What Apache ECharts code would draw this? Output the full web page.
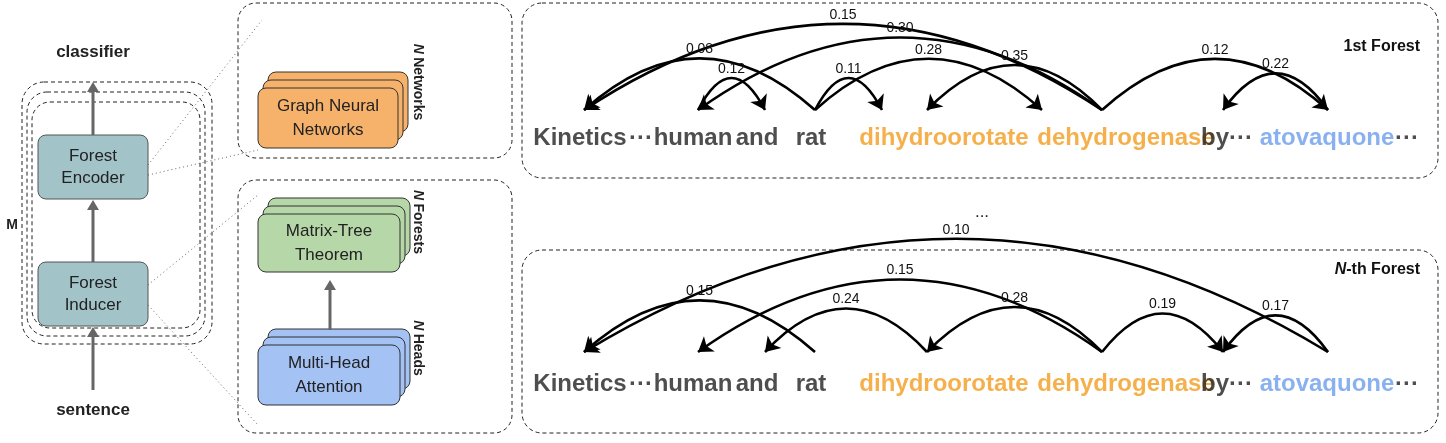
<!DOCTYPE html>
<html>
<head>
<meta charset="utf-8">
<script src="https://cdn.jsdelivr.net/npm/echarts@6/dist/echarts.min.js"></script>
<style>html,body{margin:0;background:#fff}#c{width:1446px;height:443px}</style>
</head>
<body>
<div id="c"></div>
<script>
// words of the sentence: text, centre x, colour group
var words = ['Kinetics', '\u00b7\u00b7\u00b7', 'human', 'and', 'rat', 'dihydroorotate', 'dehydrogenase', 'by', '\u00b7\u00b7\u00b7', 'atovaquone', '\u00b7\u00b7\u00b7'];
var wordX = [580, 641, 693, 757, 811, 944, 1126, 1215, 1241, 1327, 1407];
var wordKind = [0, 0, 0, 0, 0, 1, 1, 0, 0, 2, 0];
// arc anchors (x) for each forest: [from, to, weight]
var topArcs = [
  [1102, 584, 0.15], [1102, 698, 0.30], [815, 584, 0.08], [698, 765, 0.12],
  [815, 882, 0.11], [815, 1042, 0.28], [1102, 927, 0.35], [1102, 1328, 0.12], [1328, 1223, 0.22]
];
var bottomArcs = [
  [1328, 584, 0.10], [815, 584, 0.15], [1102, 698, 0.15], [927, 765, 0.24],
  [1102, 927, 0.28], [1102, 1223, 0.19], [1328, 1223, 0.17]
];
var topWordY = 138, topArcY = 110, botWordY = 384, botArcY = 352;

var kindColor = ['#222', '#f39c1f', '#6d9eeb'];

function arcData(arcs, y) {
  return arcs.map(function (a) {
    var dx = a[1] - a[0];
    var h = 24 + 0.12 * Math.abs(dx);
    return {
      coords: [[a[0], y], [a[1], y]],
      value: a[2],
      lineStyle: { curveness: 2 * h / dx }
    };
  });
}
function wordData(y) {
  return words.map(function (w, i) {
    return { value: [wordX[i], y], name: w, label: { color: kindColor[wordKind[i]] } };
  });
}
function arcSeries(arcs, y) {
  return {
    type: 'lines', coordinateSystem: 'cartesian2d', silent: true,
    symbol: ['none', 'arrow'], symbolSize: [0, 14],
    lineStyle: { color: '#000', width: 2.6, opacity: 1 },
    label: { show: true, position: 'middle', distance: 2, fontSize: 14, color: '#111',
      fontFamily: 'Liberation Sans', formatter: function (p) { return p.value.toFixed(2); } },
    data: arcData(arcs, y)
  };
}
function wordSeries(y) {
  return {
    type: 'scatter', symbolSize: 0, silent: true,
    label: { show: true, position: 'inside', formatter: '{b}', fontSize: 24, fontWeight: 'bold',
      fontFamily: 'Liberation Sans' },
    data: wordData(y)
  };
}

var dash = { stroke: '#222', fill: 'none', lineWidth: 1, lineDash: [4, 3] };
function box(x, y, w, h, r, style) { return { type: 'rect', shape: { x: x, y: y, width: w, height: h, r: r }, style: style }; }
function card(x, y, w, h, fill, text) {
  var g = [];
  for (var k = 2; k >= 0; k--) g.push(box(x + 5 * k, y - 8 * k, w, h, 8, { fill: fill, stroke: '#333', lineWidth: 1 }));
  g.push({ type: 'text', style: { x: x + w / 2, y: y + h / 2, text: text, align: 'center', verticalAlign: 'middle',
    font: '17px Liberation Sans', fill: '#222', lineHeight: 24 } });
  return g;
}
function vtext(x, y, n, rest) {
  return { type: 'text', x: x, y: y, rotation: -Math.PI / 2,
    style: { text: '{i|' + n + '} {b|' + rest + '}', align: 'center', verticalAlign: 'middle',
      rich: { i: { font: 'italic bold 14px Liberation Sans', fill: '#222' }, b: { font: 'bold 14px Liberation Sans', fill: '#222' } } } };
}
function arrow(x, y1, y2) {
  return [{ type: 'line', shape: { x1: x, y1: y1, x2: x, y2: y2 + 8 }, style: { stroke: '#666', lineWidth: 3 } },
    { type: 'polygon', shape: { points: [[x - 6, y2 + 10], [x + 6, y2 + 10], [x, y2]] }, style: { fill: '#666' } }];
}
var teal = { fill: '#a2c4c9', stroke: '#555', lineWidth: 1 };
var graphics = [
  box(522, 3, 916, 175, 20, dash),
  box(522, 250, 916, 183, 20, dash),
  box(238, 3, 274, 155, 18, dash),
  box(238, 180, 274, 253, 18, dash),
  box(22, 82, 190, 262, 22, dash), box(27, 92, 178, 244, 20, dash), box(32, 102, 168, 226, 18, dash),
  box(38, 135, 110, 64, 8, teal), box(38, 262, 110, 64, 8, teal),
  { type: 'text', style: { x: 93, y: 167, text: 'Forest\nEncoder', align: 'center', verticalAlign: 'middle', font: '17px Liberation Sans', fill: '#222', lineHeight: 22 } },
  { type: 'text', style: { x: 93, y: 294, text: 'Forest\nInducer', align: 'center', verticalAlign: 'middle', font: '17px Liberation Sans', fill: '#222', lineHeight: 22 } },
  { type: 'text', style: { x: 93, y: 52, text: 'classifier', align: 'center', verticalAlign: 'middle', font: 'bold 17px Liberation Sans', fill: '#222' } },
  { type: 'text', style: { x: 93, y: 410, text: 'sentence', align: 'center', verticalAlign: 'middle', font: 'bold 17px Liberation Sans', fill: '#222' } },
  { type: 'text', style: { x: 12, y: 225, text: 'M', align: 'center', verticalAlign: 'middle', font: 'bold 14px Liberation Sans', fill: '#222' } },
  { type: 'text', style: { x: 982, y: 212, text: '...', align: 'center', verticalAlign: 'middle', font: '17px Liberation Sans', fill: '#222' } },
  { type: 'text', style: { x: 1420, y: 47, text: '1st Forest', align: 'right', verticalAlign: 'middle', font: 'bold 16px Liberation Sans', fill: '#111' } },
  { type: 'text', style: { x: 1420, y: 270, text: '{i|N}{b|-th Forest}', align: 'right', verticalAlign: 'middle',
    rich: { i: { font: 'italic bold 16px Liberation Sans', fill: '#111' }, b: { font: 'bold 16px Liberation Sans', fill: '#111' } } } },
  vtext(418, 82, 'N', 'Networks'), vtext(418, 222, 'N', 'Forests'), vtext(418, 348, 'N', 'Heads'),
  { type: 'line', shape: { x1: 148, y1: 165, x2: 262, y2: 20 }, style: { stroke: '#666', lineDash: [1, 3] } },
  { type: 'line', shape: { x1: 148, y1: 175, x2: 258, y2: 150 }, style: { stroke: '#666', lineDash: [1, 3] } },
  { type: 'line', shape: { x1: 148, y1: 285, x2: 258, y2: 195 }, style: { stroke: '#666', lineDash: [1, 3] } },
  { type: 'line', shape: { x1: 148, y1: 305, x2: 258, y2: 425 }, style: { stroke: '#666', lineDash: [1, 3] } }
].concat(card(258, 88, 140, 60, '#f6b26b', 'Graph Neural\nNetworks'))
 .concat(card(258, 214, 142, 58, '#b6d7a8', 'Matrix-Tree\nTheorem'))
 .concat(card(258, 345, 142, 60, '#a4c2f4', 'Multi-Head\nAttention'))
 .concat(arrow(93, 135, 82)).concat(arrow(93, 262, 200)).concat(arrow(93, 390, 327)).concat(arrow(330, 330, 280));

var chart = echarts.init(document.getElementById('c'));
chart.setOption({
  animation: false,
  grid: { left: 0, right: 0, top: 0, bottom: 0 },
  xAxis: { type: 'value', min: 0, max: 1446, show: false },
  yAxis: { type: 'value', min: 0, max: 443, inverse: true, show: false },
  graphic: graphics,
  series: [arcSeries(topArcs, topArcY), arcSeries(bottomArcs, botArcY), wordSeries(topWordY), wordSeries(botWordY)]
});
</script>
</body>
</html>
